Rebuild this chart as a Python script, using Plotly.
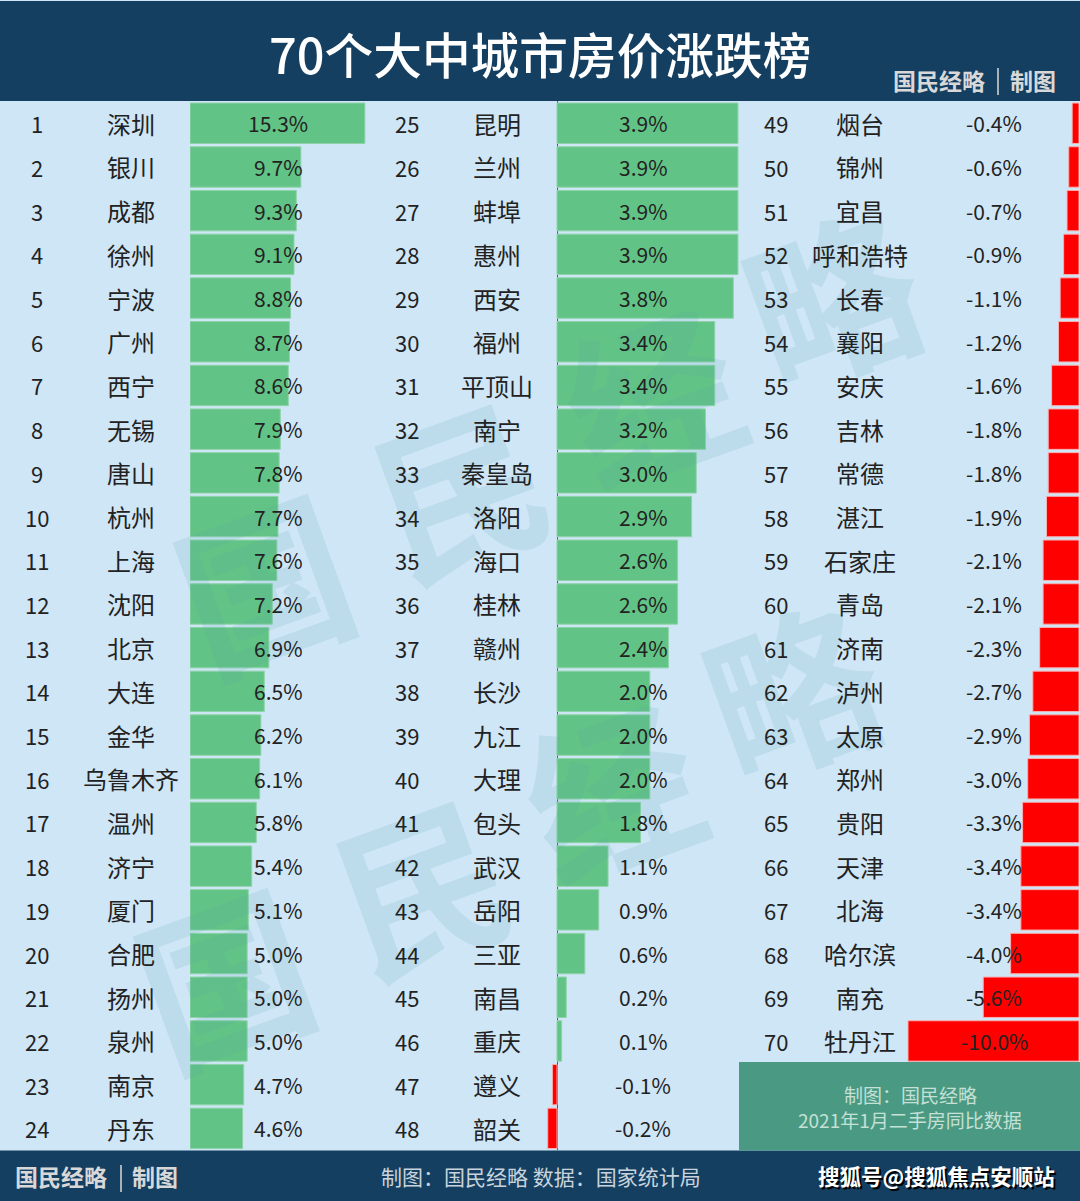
import plotly.graph_objects as go

W, H = 1080, 1201

# ---------- data ----------
title = "70个大中城市房价涨跌榜"
cities_1 = ["深圳","银川","成都","徐州","宁波","广州","西宁","无锡","唐山","杭州","上海","沈阳",
            "北京","大连","金华","乌鲁木齐","温州","济宁","厦门","合肥","扬州","泉州","南京","丹东"]
values_1 = [15.3,9.7,9.3,9.1,8.8,8.7,8.6,7.9,7.8,7.7,7.6,7.2,6.9,6.5,6.2,6.1,5.8,5.4,5.1,5.0,5.0,5.0,4.7,4.6]
cities_2 = ["昆明","兰州","蚌埠","惠州","西安","福州","平顶山","南宁","秦皇岛","洛阳","海口","桂林",
            "赣州","长沙","九江","大理","包头","武汉","岳阳","三亚","南昌","重庆","遵义","韶关"]
values_2 = [3.9,3.9,3.9,3.9,3.8,3.4,3.4,3.2,3.0,2.9,2.6,2.6,2.4,2.0,2.0,2.0,1.8,1.1,0.9,0.6,0.2,0.1,-0.1,-0.2]
cities_3 = ["烟台","锦州","宜昌","呼和浩特","长春","襄阳","安庆","吉林","常德","湛江","石家庄","青岛",
            "济南","泸州","太原","郑州","贵阳","天津","北海","哈尔滨","南充","牡丹江"]
values_3 = [-0.4,-0.6,-0.7,-0.9,-1.1,-1.2,-1.6,-1.8,-1.8,-1.9,-2.1,-2.1,-2.3,-2.7,-2.9,-3.0,-3.3,-3.4,-3.4,-4.0,-5.6,-10.0]
first_rank = [1, 25, 49]
note_lines = ["制图：国民经略", "2021年1月二手房同比数据"]
footer_text = "制图：国民经略 数据：国家统计局"
brand = "国民经略"
brand_tail = "制图"
credit = "搜狐号@搜狐焦点安顺站"

# ---------- style ----------
NAVY = "#143F61"; BG = "#CFE6F7"; GREEN = "#62C386"; RED = "#FF0000"; BOX = "#4A9A83"
CJK = "Noto Sans CJK SC"
INK = "#222222"

px = lambda x: x / W
py = lambda y: 1 - y / H

def note(x, y, text, size, color=INK, family=CJK, yref="paper", **kw):
    return dict(x=px(x), y=py(y) if yref == "paper" else y, xref="paper", yref=yref, text=text,
                showarrow=False, xanchor="center", yanchor="middle",
                font=dict(size=size, color=color, family=family, **kw.pop("font", {})), **kw)

annotations = []

# watermark (drawn first, translucent over the bars)
WM = "rgba(80,163,160,0.14)"
for chars in ([(262, 578), (458, 483), (650, 390), (830, 293)],
              [(222, 972), (420, 880), (610, 785), (790, 685)]):
    for ch, (x, y) in zip(brand, chars):
        annotations.append(note(x, y, ch, 170, color=WM, textangle=-20,
                                font={"weight": "bold"}))

fig = go.Figure()
columns = [
    (cities_1, values_1, "x", (37, 131, 278)),
    (cities_2, values_2, "x2", (407, 497, 643)),
    (cities_3, values_3, "x3", (776, 860, 994)),
]
for (cities, values, ax, (xr, xc, xp)), start in zip(columns, first_rank):
    rows = list(range(1, len(values) + 1))
    fig.add_trace(go.Bar(
        x=values, y=rows, orientation="h", xaxis=ax, yaxis="y",
        marker=dict(color=[GREEN if v >= 0 else RED for v in values],
                    line=dict(color=["#8FD3A8" if v >= 0 else "#F8B0B0" for v in values], width=1)),
        hoverinfo="x+y", showlegend=False))
    for r, city, v in zip(rows, cities, values):
        annotations.append(note(xr, 0, str(start + r - 1), 22, yref="y") | {"y": r})
        annotations.append(note(xc, 0, city, 24, yref="y") | {"y": r})
        annotations.append(note(xp, 0, f"{v:.1f}%", 21, yref="y") | {"y": r})

shapes = [
    dict(type="rect", xref="paper", yref="paper", x0=0, x1=1, y0=py(101), y1=py(1), fillcolor=NAVY, line_width=0, layer="below"),
    dict(type="rect", xref="paper", yref="paper", x0=0, x1=1, y0=py(H), y1=py(1150.5), fillcolor=NAVY, line_width=0, layer="below"),
    dict(type="rect", xref="paper", yref="paper", x0=px(739), x1=1, y0=py(1150.5), y1=py(1062), fillcolor=BOX, line_width=0, layer="below"),
    dict(type="line", xref="paper", yref="paper", x0=px(998), x1=px(998), y0=py(68), y1=py(95), line=dict(color="#D8D8D8", width=1.5)),
    dict(type="line", xref="paper", yref="paper", x0=px(121), x1=px(121), y0=py(1165), y1=py(1192), line=dict(color="#D8D8D8", width=1.5)),
]

annotations += [
    note(540, 53, title, 48.7, color="white", font={"weight": 500}),
    note(939, 80, brand, 23, color="#D8D8D8", font={"weight": "bold"}),
    note(1033, 80, brand_tail, 23, color="#D8D8D8", font={"weight": "bold"}),
    note(61, 1176, brand, 23, color="#D8D8D8", font={"weight": "bold"}),
    note(155, 1176, brand_tail, 23, color="#D8D8D8", font={"weight": "bold"}),
    note(541, 1176, footer_text, 21, color="#C9D3DB"),
    note(936, 1175, credit, 21.5, color="white", font={"weight": "bold", "shadow": "2px 2px 0 #000"}),
    note(910, 1094, note_lines[0], 19, color="#C5E0D5"),
    note(910, 1119, note_lines[1], 19, color="#C5E0D5"),
]

hidden = dict(showgrid=False, showticklabels=False, ticks="", showline=False)
fig.update_layout(
    width=W, height=H, margin=dict(l=0, r=0, t=0, b=0),
    paper_bgcolor=BG, plot_bgcolor="rgba(0,0,0,0)", bargap=0.075,
    shapes=shapes, annotations=annotations,
    xaxis=dict(domain=[px(190), px(366)], range=[0, 15.4], zeroline=False, anchor="y", **hidden),
    xaxis2=dict(domain=[px(540), px(740)], range=[-17 / 46.4, 183 / 46.4], zeroline=True,
                zerolinecolor="#3F6470", zerolinewidth=1, anchor="y", **hidden),
    xaxis3=dict(domain=[px(900), px(1079)], range=[-179 / 17.1, 0], zeroline=False, anchor="y", **hidden),
    yaxis=dict(domain=[py(1150.2), py(101.4)], range=[24.5, 0.5], zeroline=False, **hidden),
)
fig.write_html("out.html", config={"displayModeBar": False},
               post_script="document.body.style.margin='0';")
